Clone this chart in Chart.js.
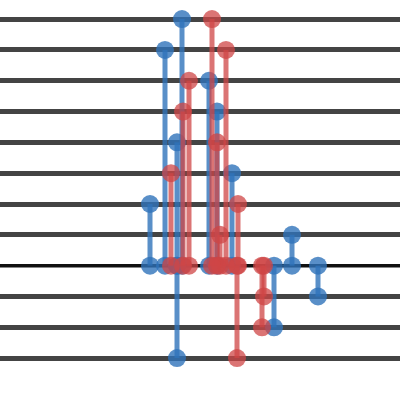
<!DOCTYPE html>
<html><head><meta charset="utf-8">
<script src="https://cdn.jsdelivr.net/npm/chart.js@4"></script>
<style>html,body{margin:0;padding:0;background:#fff}#w{width:400px;height:400px}</style>
</head><body><div id="w"><canvas id="c"></canvas></div>
<script>
const redX = [171, 183, 189, 212, 226, 217, 220, 238, 237, 262, 264];
const redV = [3, 5, 6, 8, 7, 4, 1, 2, -3, -2, -1];
const blueX = [150, 165, 182, 177, 177, 209, 217, 232, 274, 292, 318];
const blueV = [2, 7, 8, 4, -3, 6, 5, 3, -2, 1, -1];
const gridLevels = [-3, -2, -1, 0, 1, 2, 3, 4, 5, 6, 7, 8];

const datasets = [];
function add(xs, vs, col) {
  xs.forEach((x, i) => datasets.push({
    data: [{x: x, y: 0}, {x: x, y: vs[i]}],
    borderColor: col, backgroundColor: col, borderWidth: 5,
    pointRadius: 9, pointHoverRadius: 9, pointBorderWidth: 0, clip: false
  }));
}
add(redX, redV, 'rgba(207,70,70,0.75)');
add(blueX, blueV, 'rgba(47,115,186,0.8)');

new Chart(document.getElementById('c'), {
  type: 'line',
  data: {datasets},
  options: {
    animation: false, responsive: true, maintainAspectRatio: false,
    layout: {padding: 0, autoPadding: false},
    plugins: {legend: {display: false}, tooltip: {enabled: false}},
    scales: {
      x: {type: 'linear', min: 0, max: 400, display: false},
      y: {min: -4.36, max: 8.62, border: {display: false},
        ticks: {display: false, stepSize: 1, padding: 0},
        afterBuildTicks: s => { s.ticks = gridLevels.map(v => ({value: v})); },
        afterFit: s => { s.width = 0; },
        grid: {drawTicks: false, tickLength: 0,
          lineWidth: c => c.tick && c.tick.value === 0 ? 3.5 : 5,
          color: c => c.tick && c.tick.value === 0 ? '#111' : '#444'}}
    }
  }
});
</script></body></html>
